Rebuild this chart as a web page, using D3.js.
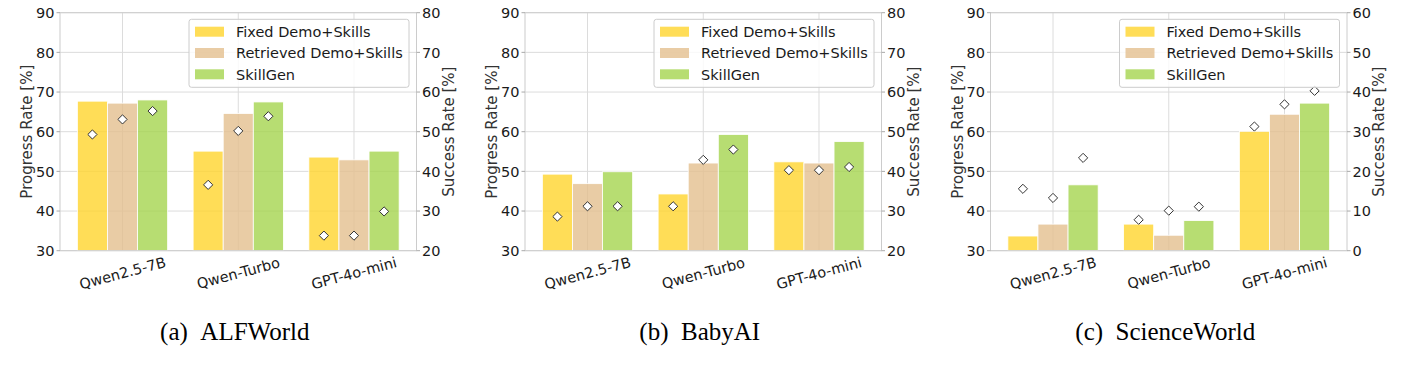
<!DOCTYPE html>
<html>
<head>
<meta charset="utf-8">
<script src="https://cdn.jsdelivr.net/npm/d3@7"></script>
<style>
  html, body { margin: 0; padding: 0; background: #fff; }
  svg { display: block; }
  .tick-label { font-family: "DejaVu Sans", sans-serif; font-size: 14.5px; fill: #1a1a1a; }
  .axis-title { font-family: "DejaVu Sans", sans-serif; font-size: 15px; fill: #333; }
  .legend-text { font-family: "DejaVu Sans", sans-serif; font-size: 14.5px; fill: #1a1a1a; }
  .caption { font-family: "Liberation Serif", "Times New Roman", serif; font-size: 25px; fill: #000; }
</style>
</head>
<body>
<svg id="chart" width="1409" height="366"></svg>
<script>
  // ---- Data ----------------------------------------------------------------
  var categories = ['Qwen2.5-7B', 'Qwen-Turbo', 'GPT-4o-mini'];
  var methods = ['Fixed Demo+Skills', 'Retrieved Demo+Skills', 'SkillGen'];
  var methodColors = ['#FFD42D', '#E4BF8F', '#A5D44F'];

  // progress rate per category: [fixed, retrieved, skillgen]
  var alfworldProgress = [[67.7, 67.2, 68.0], [55.1, 64.6, 67.5], [53.6, 52.9, 55.1]];
  var alfworldSuccess  = [[49.3, 53.1, 55.2], [36.6, 50.2, 53.9], [23.8, 23.8, 29.9]];
  var babyaiProgress   = [[49.3, 46.9, 49.9], [44.3, 52.1, 59.3], [52.4, 52.1, 57.5]];
  var babyaiSuccess    = [[28.6, 31.2, 31.2], [31.2, 42.9, 45.5], [40.3, 40.3, 41.1]];
  var sciworldProgress = [[33.7, 36.7, 46.6], [36.7, 33.9, 37.6], [60.1, 64.4, 67.2]];
  var sciworldSuccess  = [[15.6, 13.3, 23.4], [7.8, 10.1, 11.1], [31.3, 36.9, 40.3]];

  var leftTicks = [30, 40, 50, 60, 70, 80, 90];
  var rightTicksA = [20, 30, 40, 50, 60, 70, 80];
  var rightTicksC = [0, 10, 20, 30, 40, 50, 60];

  (function() {
    var panels = [
      { caption: '(a)\u00a0\u00a0ALFWorld', progress: alfworldProgress, success: alfworldSuccess, right: rightTicksA, left: 60 },
      { caption: '(b)\u00a0\u00a0BabyAI', progress: babyaiProgress, success: babyaiSuccess, right: rightTicksA, left: 525 },
      { caption: '(c)\u00a0\u00a0ScienceWorld', progress: sciworldProgress, success: sciworldSuccess, right: rightTicksC, left: 990.5 }
    ];

    // ---- Layout ------------------------------------------------------------
    var plotW = 356.5, plotTop = 12.7, plotBottom = 250.7;
    var barW = 0.26;
    var svg = d3.select('#chart');

    function drawPanel(p) {
      var g = svg.append('g').attr('transform', 'translate(' + p.left + ',0)');

      var x = d3.scaleLinear().domain([-0.54, 2.54]).range([0, plotW]);
      var y = d3.scaleLinear().domain([30, 90]).range([plotBottom, plotTop]);
      var y2 = d3.scaleLinear().domain(d3.extent(p.right)).range([plotBottom, plotTop]);

      // grid
      g.selectAll('.hgrid').data(leftTicks).enter().append('line')
        .attr('x1', 0).attr('x2', plotW)
        .attr('y1', function(d) { return y(d); }).attr('y2', function(d) { return y(d); })
        .attr('stroke', '#dcdcdc').attr('stroke-width', 1);
      g.selectAll('.vgrid').data(categories).enter().append('line')
        .attr('x1', function(d, i) { return x(i); }).attr('x2', function(d, i) { return x(i); })
        .attr('y1', plotTop).attr('y2', plotBottom)
        .attr('stroke', '#dcdcdc').attr('stroke-width', 1);

      // bars
      var rows = [];
      p.progress.forEach(function(vals, ci) {
        vals.forEach(function(v, mi) {
          rows.push({ ci: ci, mi: mi, v: v, s: p.success[ci][mi] });
        });
      });
      function cx(d) { return x(d.ci + (d.mi - 1) * barW); }
      var bw = x(barW) - x(0);

      g.selectAll('.bar').data(rows).enter().append('rect')
        .attr('x', function(d) { return cx(d) - bw / 2; })
        .attr('width', bw)
        .attr('y', function(d) { return y(d.v); })
        .attr('height', function(d) { return plotBottom - y(d.v); })
        .attr('fill', function(d) { return methodColors[d.mi]; })
        .attr('fill-opacity', 0.8)
        .attr('stroke', '#fff').attr('stroke-width', 0.8);

      // diamonds (success rate on right axis)
      var r = 4.6;
      g.selectAll('.dia').data(rows).enter().append('path')
        .attr('d', function(d) {
          var px = cx(d), py = y2(d.s);
          return 'M' + px + ',' + (py - r) + 'L' + (px + r) + ',' + py +
                 'L' + px + ',' + (py + r) + 'L' + (px - r) + ',' + py + 'Z';
        })
        .attr('fill', '#fff').attr('stroke', '#333').attr('stroke-width', 1);

      // frame
      g.append('rect').attr('x', 0).attr('y', plotTop).attr('width', plotW).attr('height', plotBottom - plotTop)
        .attr('fill', 'none').attr('stroke', '#cccccc').attr('stroke-width', 1);

      // left axis
      var la = g.append('g');
      la.selectAll('line').data(leftTicks).enter().append('line')
        .attr('x1', -3.5).attr('x2', 0)
        .attr('y1', function(d) { return y(d); }).attr('y2', function(d) { return y(d); })
        .attr('stroke', '#aaa');
      la.selectAll('text').data(leftTicks).enter().append('text')
        .attr('class', 'tick-label')
        .attr('x', -5.5).attr('y', function(d) { return y(d); })
        .attr('dy', '0.36em').attr('text-anchor', 'end')
        .text(function(d) { return d; });

      // right axis
      var ra = g.append('g');
      ra.selectAll('line').data(p.right).enter().append('line')
        .attr('x1', plotW).attr('x2', plotW + 3.5)
        .attr('y1', function(d) { return y2(d); }).attr('y2', function(d) { return y2(d); })
        .attr('stroke', '#aaa');
      ra.selectAll('text').data(p.right).enter().append('text')
        .attr('class', 'tick-label')
        .attr('x', plotW + 5.5).attr('y', function(d) { return y2(d); })
        .attr('dy', '0.36em').attr('text-anchor', 'start')
        .text(function(d) { return d; });

      // x tick labels, rotated
      g.selectAll('.xl').data(categories).enter().append('text')
        .attr('class', 'tick-label')
        .attr('text-anchor', 'middle')
        .attr('transform', function(d, i) { return 'translate(' + x(i) + ',' + 273 + ') rotate(-15)'; })
        .attr('dy', '0.36em')
        .text(function(d) { return d; });

      // axis titles
      g.append('text').attr('class', 'axis-title')
        .attr('transform', 'translate(' + (-33) + ',' + ((plotTop + plotBottom) / 2) + ') rotate(-90)')
        .attr('text-anchor', 'middle').attr('dy', '0.36em')
        .text('Progress Rate [%]');
      g.append('text').attr('class', 'axis-title')
        .attr('transform', 'translate(' + (plotW + 32) + ',' + ((plotTop + plotBottom) / 2) + ') rotate(-90)')
        .attr('text-anchor', 'middle').attr('dy', '0.36em')
        .text('Success Rate [%]');

      // legend
      var lw = 220, lh = 68;
      var lg = g.append('g').attr('transform', 'translate(' + (plotW - 7.5 - lw) + ',' + (plotTop + 6.6) + ')');
      lg.append('rect').attr('width', lw).attr('height', lh).attr('rx', 2.5)
        .attr('fill', '#fff').attr('fill-opacity', 0.8)
        .attr('stroke', '#cccccc').attr('stroke-width', 1);
      methods.forEach(function(m, i) {
        var yy = 12.4 + i * 21.3;
        lg.append('rect').attr('x', 6).attr('y', yy - 5).attr('width', 29).attr('height', 10)
          .attr('fill', methodColors[i]).attr('fill-opacity', 0.8);
        lg.append('text').attr('class', 'legend-text')
          .attr('x', 47).attr('y', yy).attr('dy', '0.36em').text(m);
      });

      // caption
      svg.append('text').attr('class', 'caption')
        .attr('x', p.left + plotW / 2 - 3.5).attr('y', 340)
        .attr('text-anchor', 'middle')
        .text(p.caption);
    }

    panels.forEach(drawPanel);
  })();
</script>
</body>
</html>
